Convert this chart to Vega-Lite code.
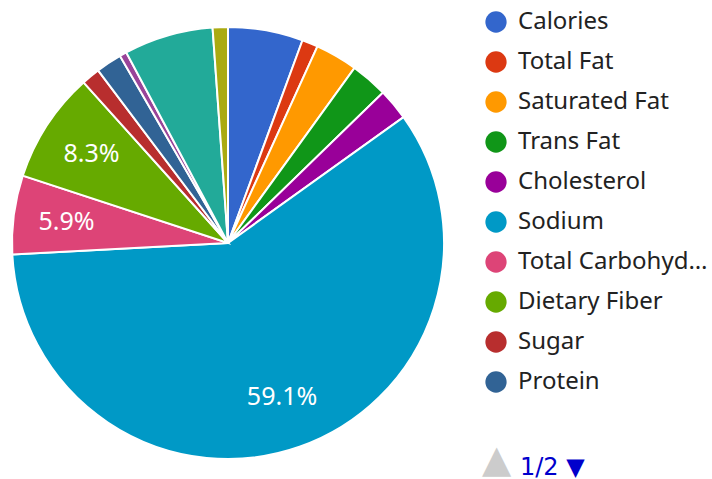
{
  "$schema": "https://vega.github.io/schema/vega-lite/v6.json",
  "width": 456,
  "height": 478,
  "autosize": {"type": "none"},
  "padding": {"left": 0, "top": 4, "right": 256, "bottom": 0},
  "background": "white",
  "config": {"view": {"stroke": null}, "font": "Noto Sans"},
  "title": {"text": "▲", "orient": "bottom", "anchor": "start", "frame": "bounds", "dx": 482, "dy": -44, "color": "#cccccc", "font": "DejaVu Sans", "fontSize": 38, "fontWeight": "normal", "offset": 0},
  "data": {"values": [
    {"id": 1, "name": "Calories", "pct": 0.0561},
    {"id": 2, "name": "Total Fat", "pct": 0.0119},
    {"id": 3, "name": "Saturated Fat", "pct": 0.0317},
    {"id": 4, "name": "Trans Fat", "pct": 0.0278},
    {"id": 5, "name": "Cholesterol", "pct": 0.0236},
    {"id": 6, "name": "Sodium", "pct": 0.591},
    {"id": 7, "name": "Total Carbohydrate", "pct": 0.059},
    {"id": 8, "name": "Dietary Fiber", "pct": 0.083},
    {"id": 9, "name": "Sugar", "pct": 0.0139},
    {"id": 10, "name": "Protein", "pct": 0.0194},
    {"id": 11, "name": "Vitamin A", "pct": 0.0053},
    {"id": 12, "name": "Calcium", "pct": 0.0667},
    {"id": 13, "name": "Iron", "pct": 0.0114}
  ]},
  "encoding": {
    "theta": {"field": "pct", "type": "quantitative", "stack": true},
    "order": {"field": "id", "type": "quantitative"}
  },
  "layer": [
    {
      "mark": {"type": "arc", "outerRadius": 216, "stroke": "white", "strokeWidth": 2},
      "encoding": {
        "color": {
          "field": "name", "type": "nominal",
          "scale": {
            "domain": ["Calories", "Total Fat", "Saturated Fat", "Trans Fat", "Cholesterol", "Sodium", "Total Carbohydrate", "Dietary Fiber", "Sugar", "Protein", "Vitamin A", "Calcium", "Iron"],
            "range": ["#3366cc", "#dc3912", "#ff9900", "#109618", "#990099", "#0099c6", "#dd4477", "#66aa00", "#b82e2e", "#316395", "#994499", "#22aa99", "#aaaa11"]
          },
          "legend": {
            "values": ["Calories", "Total Fat", "Saturated Fat", "Trans Fat", "Cholesterol", "Sodium", "Total Carbohydrate", "Dietary Fiber", "Sugar", "Protein"],
            "orient": "right",
            "offset": 22,
            "padding": 6,
            "title": "\u200b\u2002\u2002\u20021/2 ▼",
            "titleOrient": "bottom",
            "titleColor": "#0000cc",
            "titleFont": "DejaVu Sans",
            "titleFontSize": 24,
            "titleFontWeight": "normal",
            "titlePadding": 62,
            "symbolType": "circle",
            "symbolSize": 452,
            "symbolStrokeWidth": 0,
            "symbolOpacity": 1,
            "labelFontSize": 24,
            "labelColor": "#222222",
            "labelOffset": 10,
            "labelLimit": 194,
            "rowPadding": 16
          }
        }
      }
    },
    {
      "mark": {"type": "text", "radius": 163, "fontSize": 25, "color": "white"},
      "encoding": {
        "text": {
          "condition": {"test": "indexof(['Sodium','Total Carbohydrate','Dietary Fiber'], datum.name) >= 0", "field": "pct", "type": "quantitative", "format": ".1%"},
          "value": ""
        }
      }
    }
  ]
}
